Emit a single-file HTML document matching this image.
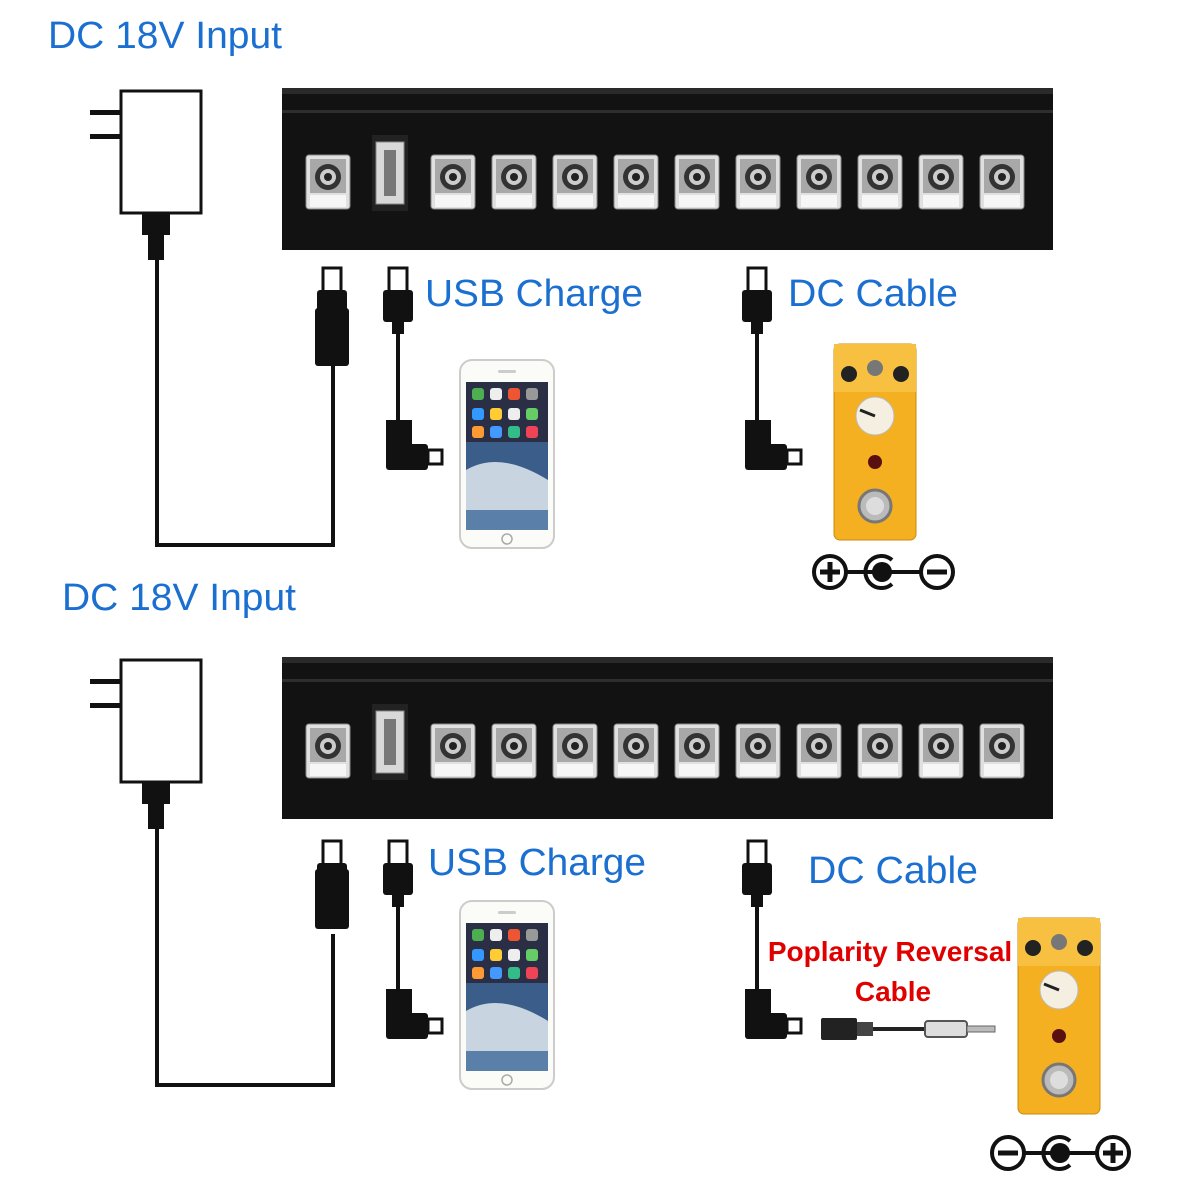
<!DOCTYPE html>
<html><head><meta charset="utf-8"><style>
html,body{margin:0;padding:0;background:#fff;}
svg{display:block;}
text{font-family:"Liberation Sans",Arial,sans-serif;}
</style></head><body>
<svg width="1200" height="1200" viewBox="0 0 1200 1200" xmlns="http://www.w3.org/2000/svg">
<defs>
<g id="jack">
  <rect x="0" y="0" width="44" height="54" rx="3" fill="#e0e0e0" stroke="#888" stroke-width="1"/>
  <rect x="4" y="4" width="36" height="34" fill="#a8a8a8"/>
  <circle cx="22" cy="22" r="13" fill="#333"/>
  <circle cx="22" cy="22" r="8" fill="#ccc"/>
  <circle cx="22" cy="22" r="4" fill="#222"/>
  <rect x="4" y="40" width="36" height="12" fill="#f6f6f6"/>
</g>
<g id="strip">
  <rect x="282" y="88" width="771" height="162" fill="#121212"/>
  <rect x="282" y="88" width="771" height="6" fill="#2a2a2a"/>
  <rect x="282" y="110" width="771" height="3" fill="#2e2e2e"/>
  <use href="#jack" x="306" y="155"/>
  <rect x="372" y="135" width="36" height="76" fill="#222"/>
  <rect x="376" y="142" width="28" height="62" fill="#d8d8d8" stroke="#888"/>
  <rect x="384" y="150" width="12" height="46" fill="#777"/>
  <use href="#jack" x="431" y="155"/>
  <use href="#jack" x="492" y="155"/>
  <use href="#jack" x="553" y="155"/>
  <use href="#jack" x="614" y="155"/>
  <use href="#jack" x="675" y="155"/>
  <use href="#jack" x="736" y="155"/>
  <use href="#jack" x="797" y="155"/>
  <use href="#jack" x="858" y="155"/>
  <use href="#jack" x="919" y="155"/>
  <use href="#jack" x="980" y="155"/>
</g>
<g id="adapter">
  <rect x="121" y="91" width="80" height="122" fill="#fff" stroke="#111" stroke-width="3"/>
  <rect x="90" y="110" width="31" height="5" fill="#111"/>
  <rect x="90" y="134" width="31" height="5" fill="#111"/>
  <rect x="142" y="213" width="28" height="22" fill="#111"/>
  <rect x="148" y="235" width="16" height="25" fill="#111"/>
</g>
<g id="straight">
  <rect x="-9" y="0" width="18" height="24" fill="#fff" stroke="#111" stroke-width="3"/>
  <rect x="-15" y="22" width="30" height="32" rx="3" fill="#111"/>
  <rect x="-6" y="52" width="12" height="14" fill="#111"/>
</g>
<g id="angled">
  <rect x="-12" y="0" width="26" height="30" fill="#111"/>
  <rect x="-12" y="24" width="42" height="26" rx="3" fill="#111"/>
  <rect x="30" y="30" width="14" height="14" fill="#fff" stroke="#111" stroke-width="3"/>
</g>
<g id="phone">
  <rect x="0" y="0" width="94" height="188" rx="12" fill="#fbfbf8" stroke="#ccc" stroke-width="2"/>
  <rect x="6" y="22" width="82" height="148" fill="#3a5d8a"/>
  <rect x="6" y="22" width="82" height="60" fill="#2a2f45"/>
  <rect x="12" y="28" width="12" height="12" rx="3" fill="#4caf50"/>
  <rect x="30" y="28" width="12" height="12" rx="3" fill="#eee"/>
  <rect x="48" y="28" width="12" height="12" rx="3" fill="#e53"/>
  <rect x="66" y="28" width="12" height="12" rx="3" fill="#999"/>
  <rect x="12" y="48" width="12" height="12" rx="3" fill="#39f"/>
  <rect x="30" y="48" width="12" height="12" rx="3" fill="#fc3"/>
  <rect x="48" y="48" width="12" height="12" rx="3" fill="#eee"/>
  <rect x="66" y="48" width="12" height="12" rx="3" fill="#6c6"/>
  <rect x="12" y="66" width="12" height="12" rx="3" fill="#f93"/>
  <rect x="30" y="66" width="12" height="12" rx="3" fill="#49f"/>
  <rect x="48" y="66" width="12" height="12" rx="3" fill="#3b8"/>
  <rect x="66" y="66" width="12" height="12" rx="3" fill="#e45"/>
  <path d="M6 110 Q40 90 88 120 L88 150 L6 150Z" fill="#c8d4e0"/>
  <rect x="6" y="150" width="82" height="20" fill="#5a7fa8"/>
  <circle cx="47" cy="179" r="5" fill="none" stroke="#aaa" stroke-width="1.5"/>
  <rect x="38" y="10" width="18" height="3" rx="1.5" fill="#ccc"/>
</g>
<g id="pedal">
  <rect x="0" y="0" width="82" height="196" rx="6" fill="#f4b020" stroke="#c98a10"/>
  <rect x="0" y="0" width="82" height="48" fill="#f7c040"/>
  <circle cx="15" cy="30" r="8" fill="#222"/>
  <circle cx="67" cy="30" r="8" fill="#222"/>
  <circle cx="41" cy="24" r="8" fill="#777"/>
  <circle cx="41" cy="72" r="19" fill="#f4efe0" stroke="#bbb"/>
  <line x1="41" y1="72" x2="26" y2="66" stroke="#222" stroke-width="3"/>
  <circle cx="41" cy="118" r="7" fill="#5a1010"/>
  <circle cx="41" cy="162" r="16" fill="#bbb" stroke="#777" stroke-width="3"/>
  <circle cx="41" cy="162" r="9" fill="#ddd"/>
</g>
<g id="plus"><circle r="16" fill="#fff" stroke="#111" stroke-width="4"/><rect x="-10" y="-2.5" width="20" height="5" fill="#111"/><rect x="-2.5" y="-10" width="5" height="20" fill="#111"/></g>
<g id="minus"><circle r="16" fill="#fff" stroke="#111" stroke-width="4"/><rect x="-10" y="-2.5" width="20" height="5" fill="#111"/></g>
<g id="center"><path d="M10 -12 A16 16 0 1 0 10 12" fill="none" stroke="#111" stroke-width="4"/><circle r="10" fill="#111"/></g>
</defs>

<!-- TOP -->
<text x="48" y="48" font-size="38" fill="#1a6fd0" textLength="234" lengthAdjust="spacingAndGlyphs">DC 18V Input</text>
<use href="#strip"/>
<use href="#adapter"/>
<polyline points="157,260 157,545 333,545 333,365" fill="none" stroke="#111" stroke-width="4"/>
<use href="#straight" x="332" y="268"/>
<rect x="315" y="308" width="34" height="58" rx="3" fill="#111"/>
<use href="#straight" x="398" y="268"/>
<line x1="398" y1="320" x2="398" y2="422" stroke="#111" stroke-width="4"/>
<use href="#angled" x="398" y="420"/>
<text x="425" y="306" font-size="38" fill="#1a6fd0" textLength="218" lengthAdjust="spacingAndGlyphs">USB Charge</text>
<use href="#phone" x="460" y="360"/>
<use href="#straight" x="757" y="268"/>
<line x1="757" y1="320" x2="757" y2="422" stroke="#111" stroke-width="4"/>
<use href="#angled" x="757" y="420"/>
<text x="788" y="306" font-size="38" fill="#1a6fd0" textLength="170" lengthAdjust="spacingAndGlyphs">DC Cable</text>
<use href="#pedal" x="834" y="344"/>
<line x1="846" y1="572" x2="920" y2="572" stroke="#111" stroke-width="4"/>
<use href="#plus" x="830" y="572"/>
<use href="#center" x="882" y="572"/>
<use href="#minus" x="937" y="572"/>

<!-- BOTTOM -->
<text x="62" y="610" font-size="38" fill="#1a6fd0" textLength="234" lengthAdjust="spacingAndGlyphs">DC 18V Input</text>
<g transform="translate(0,569)">
<use href="#strip"/>
<use href="#adapter"/>
<polyline points="157,260 157,516 333,516 333,365" fill="none" stroke="#111" stroke-width="4"/>
<use href="#straight" x="332" y="272"/>
<rect x="315" y="300" width="34" height="60" rx="3" fill="#111"/>
<use href="#straight" x="398" y="272"/>
<line x1="398" y1="320" x2="398" y2="422" stroke="#111" stroke-width="4"/>
<use href="#angled" x="398" y="420"/>
<use href="#phone" x="460" y="332"/>
<use href="#straight" x="757" y="272"/>
<line x1="757" y1="320" x2="757" y2="422" stroke="#111" stroke-width="4"/>
<use href="#angled" x="757" y="420"/>
</g>
<text x="428" y="875" font-size="38" fill="#1a6fd0" textLength="218" lengthAdjust="spacingAndGlyphs">USB Charge</text>
<text x="808" y="883" font-size="38" fill="#1a6fd0" textLength="170" lengthAdjust="spacingAndGlyphs">DC Cable</text>
<text x="890" y="961" font-size="28" font-weight="bold" fill="#e00000" text-anchor="middle">Poplarity Reversal</text>
<text x="893" y="1001" font-size="28" font-weight="bold" fill="#e00000" text-anchor="middle">Cable</text>
<rect x="821" y="1018" width="36" height="22" rx="2" fill="#222"/>
<rect x="857" y="1022" width="16" height="14" fill="#444"/>
<line x1="873" y1="1029" x2="925" y2="1029" stroke="#222" stroke-width="4"/>
<rect x="925" y="1021" width="42" height="16" rx="3" fill="#ddd" stroke="#555" stroke-width="2"/>
<rect x="967" y="1026" width="28" height="6" fill="#bbb" stroke="#666"/>
<use href="#pedal" x="1018" y="918"/>
<line x1="1024" y1="1153" x2="1098" y2="1153" stroke="#111" stroke-width="4"/>
<use href="#minus" x="1008" y="1153"/>
<use href="#center" x="1060" y="1153"/>
<use href="#plus" x="1113" y="1153"/>
</svg>
</body></html>
